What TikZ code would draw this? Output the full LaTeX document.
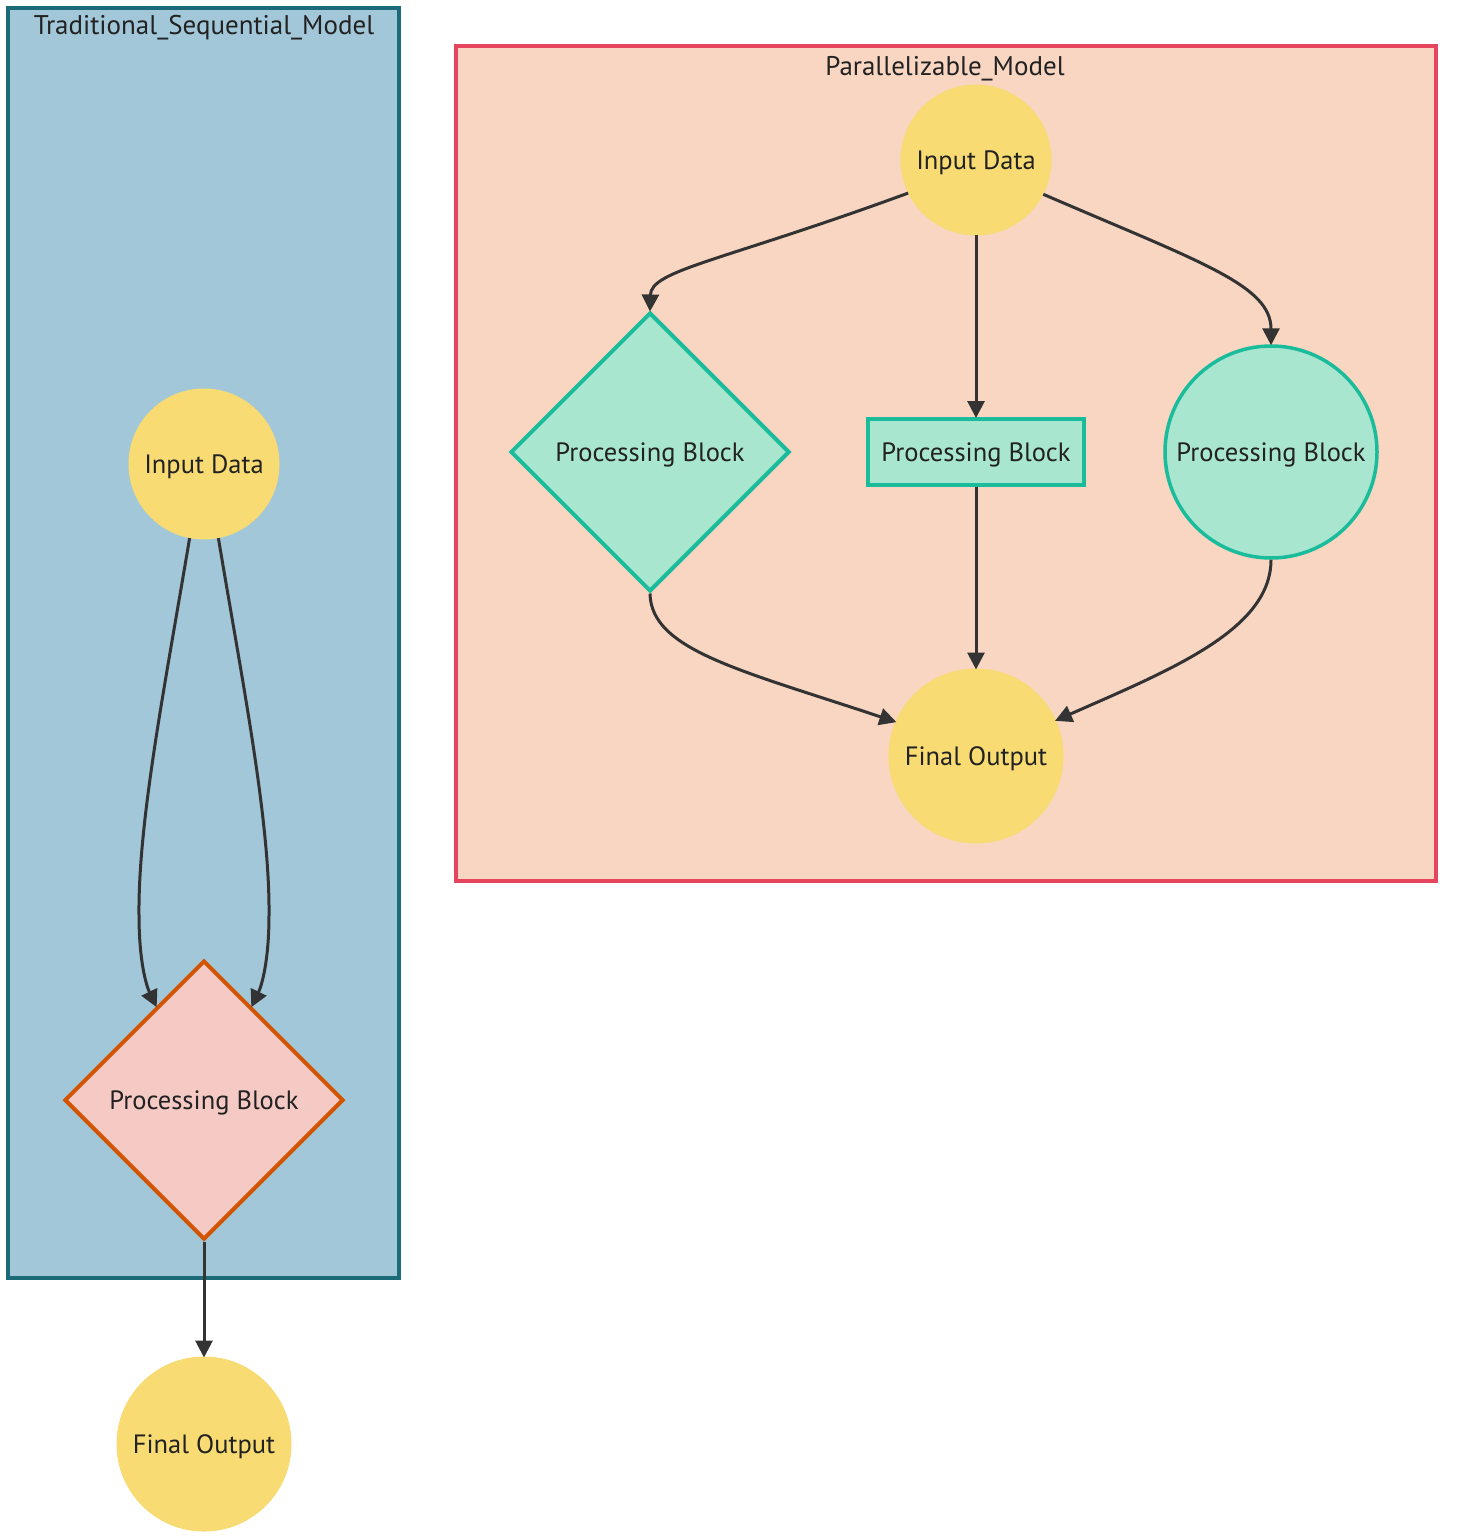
\documentclass[tikz,border=0pt]{standalone}
\usepackage{fontspec}
\setmainfont{PT Sans}
\usetikzlibrary{shapes.geometric,arrows.meta}
\definecolor{clAfill}{HTML}{A2C7D8}
\definecolor{clAline}{HTML}{1B6A78}
\definecolor{clBfill}{HTML}{F8D6C2}
\definecolor{clBline}{HTML}{E6455E}
\definecolor{yel}{HTML}{F8DB72}
\definecolor{grnfill}{HTML}{A8E6CF}
\definecolor{grnline}{HTML}{1ABC9C}
\definecolor{pkfill}{HTML}{F5C9C4}
\definecolor{pkline}{HTML}{D35400}
\definecolor{ink}{HTML}{333333}
\definecolor{txt}{HTML}{222222}
\tikzset{
  every node/.style={font=\fontsize{26.5}{30}\selectfont, text=txt},
  lbl/.style={text height=19pt, text depth=0pt},
  cluster/.style={draw, line width=4pt, rectangle, inner sep=0pt},
  ytitle/.style={font=\fontsize{27}{31}\selectfont, inner sep=0pt},
  yelcirc/.style={lbl, circle, fill=yel, draw=yel, line width=1pt, inner sep=0pt},
  pkdiam/.style={lbl, diamond, aspect=1, fill=pkfill, draw=pkline, line width=4pt, inner sep=0pt, minimum size=279pt},
  grdiam/.style={lbl, diamond, aspect=1, fill=grnfill, draw=grnline, line width=4pt, inner sep=0pt, minimum size=279pt},
  grrect/.style={lbl, rectangle, fill=grnfill, draw=grnline, line width=4pt, inner sep=0pt, minimum width=216pt, minimum height=66pt},
  grcirc/.style={lbl, circle, fill=grnfill, draw=grnline, line width=3.5pt, inner sep=0pt, minimum size=212pt},
  link/.style={draw=ink, line width=3pt, -{Triangle[length=17pt,width=17pt]}, shorten >=-1pt}
}
\begin{document}
\begin{tikzpicture}[x=1pt,y=-1pt]
\useasboundingbox[fill=white] (0,0) rectangle (1456,1538);
% clusters
\node[cluster, draw=clAline, fill=clAfill, minimum width=391pt, minimum height=1270pt] (clA) at (203.5,643) {};
\node[ytitle] (tA) at (204,28) {Traditional\_Sequential\_Model};
\node[cluster, draw=clBline, fill=clBfill, minimum width=980pt, minimum height=835pt] (clB) at (946,463.5) {};
\node[ytitle] (tB) at (945,69) {Parallelizable\_Model};
% left nodes
\node[yelcirc, minimum size=150pt] (inA) at (204,464) {Input Data};
\node[pkdiam] (pbA) at (204,1100) {Processing Block};
\node[yelcirc, minimum size=174pt] (outA) at (204,1444) {Final Output};
% right nodes
\node[yelcirc, minimum size=150pt] (inB) at (976,160) {Input Data};
\node[grdiam] (pb1) at (650,452) {Processing Block};
\node[grrect] (pb2) at (976,452) {Processing Block};
\node[grcirc] (pb3) at (1271,452) {Processing Block};
\node[yelcirc, minimum size=174pt] (outB) at (976,756) {Final Output};
% left edges
\draw[link] (inA.-101) .. controls (166,680) and (138,820) .. (139,915)
  .. controls (139,960) and (146,985) .. (pbA.117);
\draw[link] (inA.-79) .. controls (242,680) and (270,820) .. (269,915)
  .. controls (269,960) and (262,985) .. (pbA.63);
\draw[link] (pbA.south) -- (outA.north);
% right edges
\draw[link] (inB.206) .. controls (720,262) and (651,270) .. (pb1.north);
\draw[link] (inB.south) -- (pb2.north);
\draw[link] (inB.-27) .. controls (1200,262) and (1271,285) .. (pb3.north);
\draw[link] (pb1.south) .. controls (651,650) and (740,670) .. (outB.157);
\draw[link] (pb2.south) -- (outB.north);
\draw[link] (pb3.south) .. controls (1271,630) and (1170,670) .. (outB.24);
\end{tikzpicture}
\end{document}
